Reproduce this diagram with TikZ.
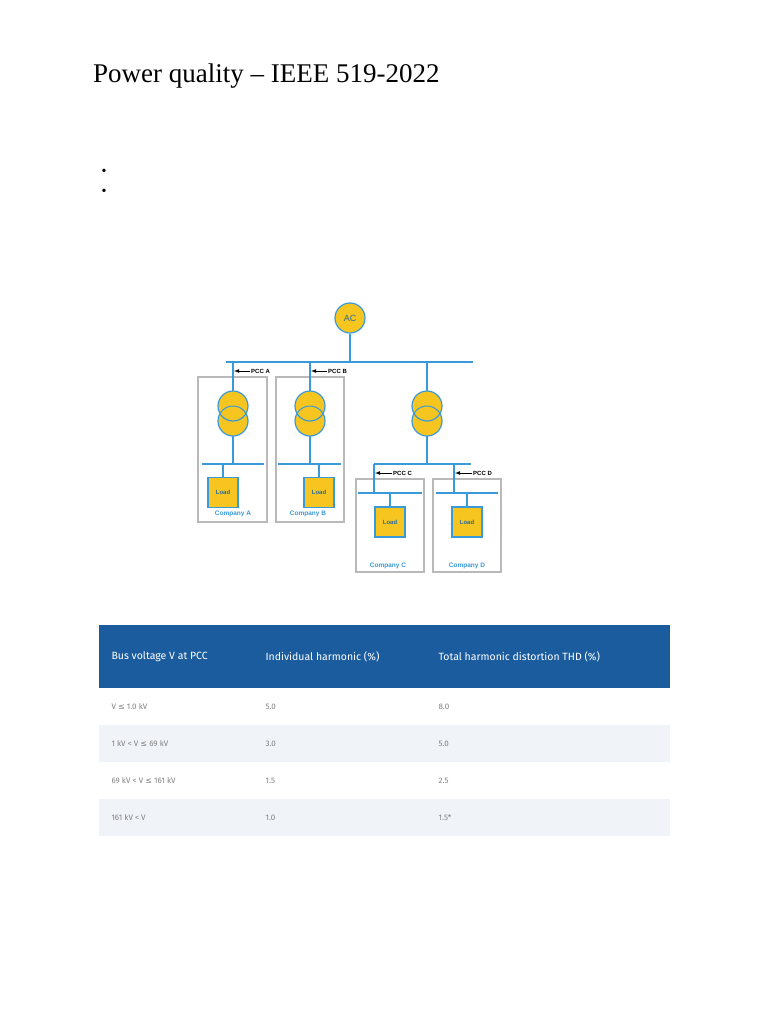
\documentclass[tikz,border=0pt]{standalone}
\usepackage{fontspec}
\setmainfont{Liberation Serif}
\newfontfamily\arial{Liberation Sans}
\newfontfamily\tab{Fira Sans}
\newfontfamily\djvs{DejaVu Sans}
\begin{document}
\begin{tikzpicture}[x=1pt,y=-1pt,
  bl/.style={draw=wblue,line width=1.3pt},
  gbox/.style={draw=gray!55,line width=1.2pt},
  circ/.style={circle,draw=wblue,fill=wyel,line width=1.2pt,minimum size=30pt,inner sep=0pt},
  load/.style={draw=wblue,fill=wyel,line width=1.2pt,minimum width=30pt,minimum height=30pt,inner sep=0pt,font=\arial\bfseries\fontsize{6}{7}\selectfont,text=wblue!70!black},
  comp/.style={font=\arial\bfseries\fontsize{6.5}{7}\selectfont,text=wblue},
  pcc/.style={font=\arial\bfseries\fontsize{6}{7}\selectfont,anchor=west,inner sep=1pt},
  arr/.style={-latex,line width=0.8pt},
  hd/.style={font=\tab\fontsize{10.5}{12}\selectfont,text=white,anchor=west},
  cell/.style={font=\tab\fontsize{8}{10}\selectfont,text=gray,anchor=west}]
\definecolor{wblue}{HTML}{3A9AD9}
\definecolor{wyel}{HTML}{F7C520}
\definecolor{thead}{HTML}{1B5C9E}
\definecolor{tlight}{HTML}{F0F4F8}
\useasboundingbox (0,0) rectangle (768,1024);
\fill[white] (0,0) rectangle (768,1024);
\node[anchor=base west,inner sep=0,font=\fontsize{27}{30}\selectfont] (title) at (93,83) {Power quality – IEEE 519-2022};
\node[inner sep=0,font=\fontsize{14}{14}\selectfont] (b1) at (104,172) {•};
\node[inner sep=0,font=\fontsize{14}{14}\selectfont] (b2) at (104,192) {•};
% boxes
\draw[gbox] (198,377) rectangle (267,522);
\draw[gbox] (276,377) rectangle (344,522);
\draw[gbox] (356,479) rectangle (424,572);
\draw[gbox] (433,479) rectangle (501,572);
% main bus
\coordinate (busL) at (226,362); \coordinate (busR) at (473,362);
\draw[bl] (busL) -- (busR);
\node[circ,font=\arial\fontsize{9}{10}\selectfont,text=wblue!70!black] (ac) at (350,318) {AC};
\coordinate (acb) at (350,362);
\draw[bl] (ac) -- (acb);
% transformers
\foreach \n/\x in {A/233,B/310,C/427}{
  \coordinate (t\n) at (\x,362);
  \coordinate (s\n) at (\x,464);
  \draw[bl] (t\n) -- (\x,391) (\x,436) -- (s\n);
  \node[circ] (l\n) at (\x,421) {};
  \node[circ] (u\n) at (\x,406) {};
  \begin{scope}\clip (\x,406) circle (15pt); \draw[wblue,line width=1pt] (\x,421) circle (15pt);\end{scope}
}
% sub buses
\coordinate (sbA1) at (202,464); \coordinate (sbA2) at (264,464);
\coordinate (sbB1) at (278,464); \coordinate (sbB2) at (341,464);
\coordinate (sbC1) at (374,464); \coordinate (sbC2) at (471,464);
\draw[bl] (sbA1) -- (sbA2); \draw[bl] (sbB1) -- (sbB2); \draw[bl] (sbC1) -- (sbC2);
% loads A B
\node[load] (LA) at (223,492.5) {Load};
\node[load] (LB) at (319,492.5) {Load};
\draw[bl] (223,464) -- (LA.north);
\draw[bl] (319,464) -- (LB.north);
\node[comp] (cA) at (233,514) {Company A};
\node[comp] (cB) at (308,514) {Company B};
% C D
\coordinate (dC) at (374,493); \coordinate (dD) at (454,493);
\draw[bl] (374,464) -- (dC); \draw[bl] (454,464) -- (dD);
\draw[bl] (358,493) -- (422,493); \draw[bl] (436,493) -- (498,493);
\node[load] (LC) at (390,522) {Load};
\node[load] (LD) at (467,522) {Load};
\draw[bl] (390,493) -- (LC.north); \draw[bl] (467,493) -- (LD.north);
\node[comp] (cC) at (388,566) {Company C};
\node[comp] (cD) at (467,566) {Company D};
% PCC labels
\node[pcc] (pA) at (250,371) {PCC A};
\node[pcc] (pB) at (327,371) {PCC B};
\node[pcc] (pC) at (392,473) {PCC C};
\node[pcc] (pD) at (472,473) {PCC D};
\coordinate (aA) at (234,371); \coordinate (aB) at (311,371);
\coordinate (aC) at (375,473); \coordinate (aD) at (455,473);
\draw[arr] (pA.west) -- (aA); \draw[arr] (pB.west) -- (aB);
\draw[arr] (pC.west) -- (aC); \draw[arr] (pD.west) -- (aD);
% table
\fill[thead] (99,625) rectangle (670,688);
\fill[tlight] (99,725) rectangle (670,762);
\fill[tlight] (99,799) rectangle (670,836);
\node[hd] (h1) at (108,657) {Bus voltage V at PCC};
\node[hd] (h2) at (262,657) {Individual harmonic (\%)};
\node[hd] (h3) at (435,657) {Total harmonic distortion THD (\%)};
\node[cell] (r11) at (108,707) {V {\djvs ≤} 1.0 kV};
\node[cell] (r12) at (262,707) {5.0};
\node[cell] (r13) at (435,707) {8.0};
\node[cell] (r21) at (108,744) {1 kV < V {\djvs ≤} 69 kV};
\node[cell] (r22) at (262,744) {3.0};
\node[cell] (r23) at (435,744) {5.0};
\node[cell] (r31) at (108,781) {69 kV < V {\djvs ≤} 161 kV};
\node[cell] (r32) at (262,781) {1.5};
\node[cell] (r33) at (435,781) {2.5};
\node[cell] (r41) at (108,818) {161 kV < V};
\node[cell] (r42) at (262,818) {1.0};
\node[cell] (r43) at (435,818) {1.5*};
\end{tikzpicture}
\end{document}
